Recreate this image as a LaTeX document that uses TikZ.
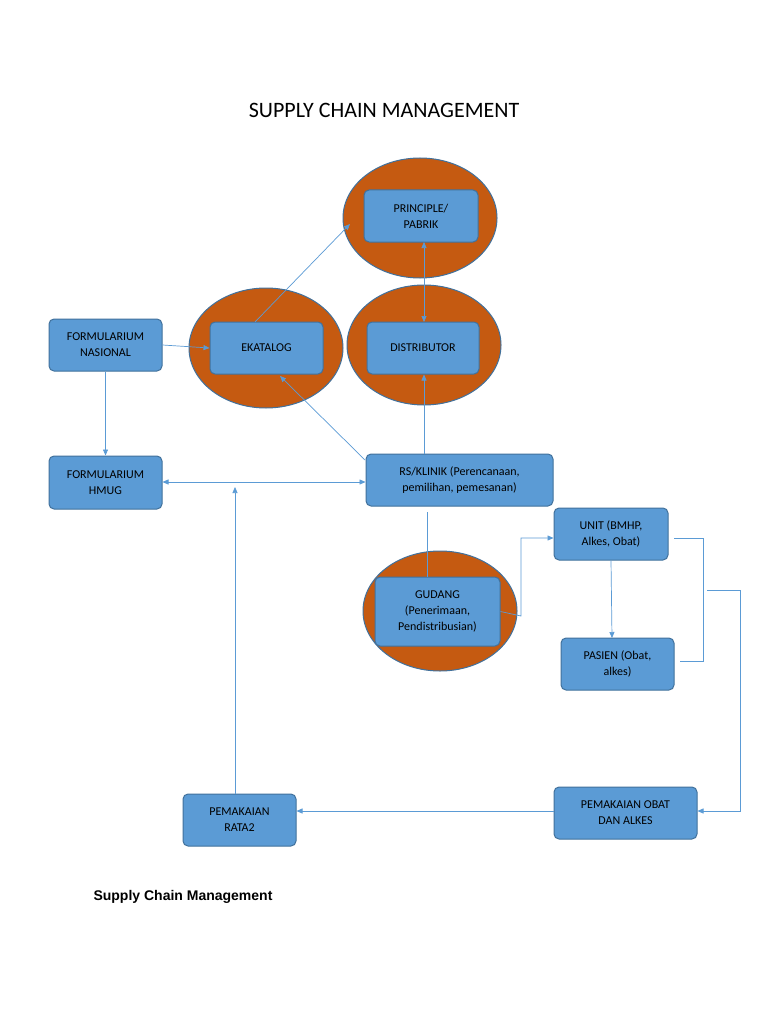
\documentclass[tikz,border=0pt]{standalone}
\usepackage{fontspec}
\setmainfont{Carlito}
\usetikzlibrary{arrows.meta}
\definecolor{orng}{HTML}{C55A11}
\definecolor{bfill}{HTML}{5B9BD5}
\definecolor{bdraw}{HTML}{41719C}
\definecolor{lnc}{HTML}{5B9BD5}
\begin{document}
\begin{tikzpicture}[x=1pt,y=-1pt,
  ell/.style={draw=bdraw,line width=1pt,fill=orng},
  box/.style={draw=bdraw,line width=1pt,fill=bfill,rounded corners=5pt,align=center,font=\fontsize{12}{16}\selectfont,inner sep=0pt},
  ln/.style={draw=lnc,line width=0.7pt},
  ar/.style={ln,-{Triangle[length=6pt,width=5pt]}},
  ba/.style={ln,{Triangle[length=6pt,width=5pt]}-{Triangle[length=6pt,width=5pt]}}]
\useasboundingbox (0,0) rectangle (768,1024);
\fill[white] (0,0) rectangle (768,1024);
\node[font=\fontsize{22}{26}\selectfont] (title) at (384,110) {SUPPLY CHAIN MANAGEMENT};
\draw[ell] (420,218) ellipse [x radius=77,y radius=60];
\draw[ell] (266,348) ellipse [x radius=77,y radius=60];
\draw[ell] (424,345) ellipse [x radius=77,y radius=60];
\draw[ell] (440,611) ellipse [x radius=77,y radius=60];
\node[box,minimum width=114,minimum height=52] (pr) at (421,216) {PRINCIPLE/\\PABRIK};
\node[box,minimum width=113,minimum height=52] (ek) at (266.5,348) {EKATALOG};
\node[box,minimum width=112,minimum height=52] (di) at (423,348) {DISTRIBUTOR};
\node[box,minimum width=113,minimum height=52] (fn) at (105.5,345) {FORMULARIUM\\NASIONAL};
\node[box,minimum width=113,minimum height=53] (fh) at (105.5,482.5) {FORMULARIUM\\HMUG};
\node[box,minimum width=187,minimum height=52] (rs) at (459.5,480) {RS/KLINIK (Perencanaan,\\pemilihan, pemesanan)};
\node[box,minimum width=125,minimum height=69] (gd) at (437.5,611.5) {GUDANG\\(Penerimaan,\\Pendistribusian)};
\node[box,minimum width=114,minimum height=52] (un) at (611,534) {UNIT (BMHP,\\Alkes, Obat)};
\node[box,minimum width=113,minimum height=52] (ps) at (617.5,664) {PASIEN (Obat,\\alkes)};
\node[box,minimum width=143,minimum height=52] (po) at (625.5,813) {PEMAKAIAN OBAT\\DAN ALKES};
\node[box,minimum width=113,minimum height=52] (pr2) at (239.5,820) {PEMAKAIAN\\RATA2};
\node[font=\fontsize{14}{16}\selectfont\bfseries\fontspec{Liberation Sans},anchor=west] (cap) at (90,897) {Supply Chain Management};
\coordinate (h1) at (740,590);
\coordinate (h2) at (235,487);
\draw[ar] (255,322) -- (350,224);
\draw[ba] (424,322) -- (424,242);
\draw[ar] (fn.east) -- (ek.west);
\draw[ar] (fn.south) -- (fh.north);
\draw[ba] (fh.east |- 0,482) -- (rs.west |- 0,482);
\draw[ar] (365,460) -- (280,376);
\draw[ar] (424,454) -- (di.south -| 424,0);
\draw[ln] (427,512) -- (427,577);
\draw[ar] (gd.east) -- (521,616) -- (521,538) -- (un.west |- 0,538);
\draw[ar] (un.south) -- (612,638);
\draw[ln] (674,538) -- (703,538) -- (703,661) -- (680,661);
\draw[ar] (707,590) -- (h1) -- (740,811) -- (po.east |- 0,811);
\draw[ar] (po.west |- 0,811) -- (pr2.east |- 0,811);
\draw[ar] (pr2.north -| 235,0) -- (h2);
\end{tikzpicture}
\end{document}
